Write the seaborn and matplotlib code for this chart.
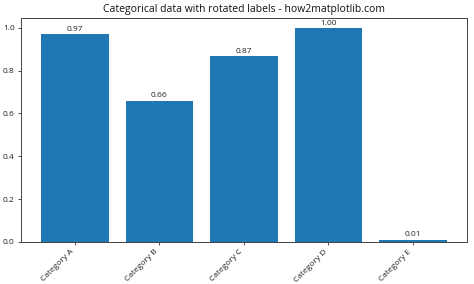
import matplotlib
matplotlib.use("Agg")
import matplotlib.pyplot as plt
import seaborn as sns
import pandas as pd

categories = ["Category A", "Category B", "Category C", "Category D", "Category E"]
values = [0.97, 0.66, 0.868, 0.997, 0.01]

sns.set_style("ticks")
plt.rcParams['font.family'] = ['Open Sans', 'DejaVu Sans']

df = pd.DataFrame({"category": categories, "value": values})

fig, ax = plt.subplots(figsize=(4.74, 2.84), dpi=100)
sns.barplot(data=df, x="category", y="value", color="#1f77b4", saturation=1,
            width=0.8, ax=ax, errorbar=None, linewidth=0)
for c in ax.containers:
    ax.bar_label(c, fmt="%.2f", fontsize=6, padding=1, color='#222222')

ax.set_title("Categorical data with rotated labels - how2matplotlib.com", fontsize=7.5, pad=4, color='#111111')
ax.set_xlabel("")
ax.set_ylabel("")
ax.set_ylim(0, max(values) * 1.05)
ax.set_xlim(-0.64, 4.64)
ax.tick_params(axis='both', labelsize=6, length=2.5, width=0.6, pad=2, labelcolor='#222222', color='#333333')
plt.setp(ax.get_xticklabels(), rotation=45, ha='right')
for s in ax.spines.values():
    s.set_visible(True)
    s.set_linewidth(0.7)
    s.set_color('#444444')
fig.subplots_adjust(left=0.0443, right=0.985, top=0.938, bottom=0.148)
fig.savefig("out.png", dpi=100)
